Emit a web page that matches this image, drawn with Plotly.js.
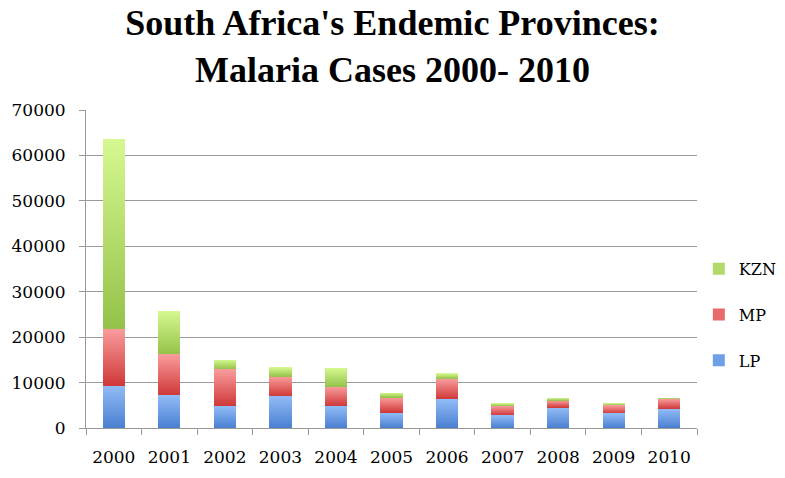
<!DOCTYPE html>
<html>
<head>
<meta charset="utf-8">
<script src="https://cdn.plot.ly/plotly-3.0.1.min.js"></script>
<style>html,body{margin:0;padding:0;background:#fff;}#chart{width:785px;height:478px;}</style>
</head>
<body>
<div id="chart"></div>
<script>
const years = ['2000','2001','2002','2003','2004','2005','2006','2007','2008','2009','2010'];
const lpCases  = [9300, 7260, 4840, 7000, 4840, 3400, 6400, 2800, 4470, 3200, 4200];
const mpCases  = [12600, 8960, 8100, 4300, 4260, 3300, 4400, 2050, 1550, 1800, 2200];
const kznCases = [41700, 9550, 2100, 2050, 4100, 1100, 1200, 600, 600, 500, 270];
const yTicks = [0, 10000, 20000, 30000, 40000, 50000, 60000, 70000];

const serif = 'DejaVu Serif, serif';
const titleFont = 'Liberation Serif, serif';
function tr(name, vals, color, grp, rank) {
  return {type: 'bar', name: name, x: years, y: vals, legendgroup: grp, legendrank: rank,
    marker: {color: color, line: {width: 0}}, hoverinfo: 'skip'};
}
const data = [
  tr('LP', lpCases, '#6f9fe6', 'a', 3),
  tr('MP', mpCases, '#e86a6a', 'b', 2),
  tr('KZN', kznCases, '#b2da6a', 'c', 1)
];
const layout = {
  width: 785, height: 478,
  margin: {l: 86, r: 88, t: 110, b: 50, autoexpand: false},
  paper_bgcolor: '#fff', plot_bgcolor: '#fff',
  barmode: 'stack', bargap: 0.6,
  title: {text: "South Africa's Endemic Provinces:<br>Malaria Cases 2000- 2010",
    font: {family: titleFont, size: 36, color: '#000', weight: 'bold'},
    x: 0.5, xanchor: 'center', xref: 'container', yref: 'container', y: 0.927, yanchor: 'bottom'},
  xaxis: {type: 'category', tickson: 'boundaries', ticks: 'outside', ticklen: 6,
    tickcolor: '#999', showline: true, linecolor: '#999', showgrid: false,
    ticklabelstandoff: 14,
    tickfont: {family: serif, size: 17, color: '#000'}, fixedrange: true},
  yaxis: {range: [0, 70000], tickvals: yTicks, ticktext: yTicks.map(String),
    ticks: 'outside', ticklen: 6, tickcolor: '#999', showline: true, linecolor: '#999',
    gridcolor: '#9a9a9a', gridwidth: 1, zeroline: false, ticklabelstandoff: 10,
    tickfont: {family: serif, size: 17, color: '#000'}, fixedrange: true},
  legend: {x: 1.003, xanchor: 'left', y: 0.356, yanchor: 'middle',
    traceorder: 'grouped', tracegroupgap: 22,
    font: {family: serif, size: 16, color: '#000'}, itemwidth: 30},
  showlegend: true
};
Plotly.newPlot('chart', data, layout, {displayModeBar: false, staticPlot: true}).then(function(gd){
  const svg = gd.querySelector('svg.main-svg');
  const ns = 'http://www.w3.org/2000/svg';
  let defs = svg.querySelector('defs');
  const grads = {
    a: ['#92bcf7', '#4a7fd1'],
    b: ['#fa9d9d', '#cf3838'],
    c: ['#d6f891', '#94c249']
  };
  Object.keys(grads).forEach(function(k){
    const g = document.createElementNS(ns, 'linearGradient');
    g.setAttribute('id', 'grad_' + k);
    g.setAttribute('x1', '0'); g.setAttribute('y1', '0');
    g.setAttribute('x2', '0'); g.setAttribute('y2', '1');
    [[0, grads[k][0]], [1, grads[k][1]]].forEach(function(s){
      const st = document.createElementNS(ns, 'stop');
      st.setAttribute('offset', s[0]);
      st.setAttribute('stop-color', s[1]);
      g.appendChild(st);
    });
    defs.appendChild(g);
  });
  const keys = ['a', 'b', 'c'];
  gd.querySelectorAll('.barlayer .trace').forEach(function(t, i){
    t.querySelectorAll('path').forEach(function(p){ p.style.fill = 'url(#grad_' + keys[i] + ')'; });
  });
});
</script>
</body>
</html>
